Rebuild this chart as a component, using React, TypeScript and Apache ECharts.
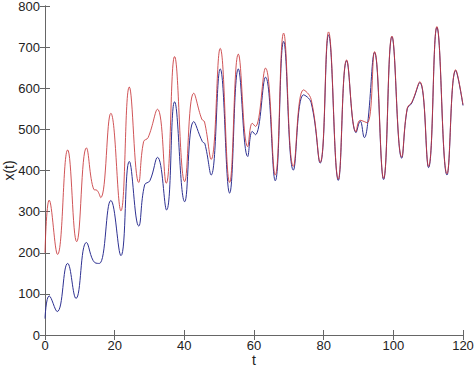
import React, { useEffect, useRef } from "react";
import * as echarts from "echarts";

const redT = [0, 1.2, 3.6, 6.5, 9.1, 11.9, 14.0, 14.9, 16.0, 18.9, 21.8, 24.2, 26.9, 28.3, 29.6, 32.3, 34.8, 37.2, 40.1, 42.7, 45.0, 45.8, 47.7, 50.3, 53.0, 55.5, 58.2, 59.5, 60.4, 63.3, 66.1, 68.5, 71.3, 74.2, 76.4, 79.0, 81.4, 84.2, 86.6, 89.3, 90.5, 92.5, 94.6, 97.2, 99.6, 102.4, 104.0, 105.3, 107.6, 110.1, 112.5, 115.4, 117.9, 120];
const redV = [200, 328, 196, 450, 227, 455, 354, 352, 334, 539, 302, 603, 371, 470, 480, 549, 369, 677, 373, 588, 525, 518, 427, 697, 371, 683, 458, 515, 507, 649, 389, 734, 410, 596, 573, 420, 737, 379, 669, 494, 522, 516, 689, 381, 727, 433, 552, 566, 616, 410, 750, 392, 645, 560];

const blueT = [0, 1.2, 3.5, 6.5, 8.9, 11.9, 14.3, 15.6, 18.9, 21.8, 24.2, 26.9, 28.6, 30.1, 32.3, 34.9, 37.2, 40.1, 42.7, 45.2, 45.9, 47.7, 50.3, 53.0, 55.5, 58.2, 59.5, 60.4, 63.3, 66.1, 68.5, 71.3, 74.2, 76.4, 79.0, 81.4, 84.2, 86.6, 89.3, 90.5, 91.7, 92.6, 94.6, 97.2, 99.6, 102.4, 104.0, 105.3, 107.6, 110.1, 112.5, 115.4, 117.9, 120];
const blueV = [40, 95, 57, 174, 89, 225, 176, 174, 327, 193, 422, 265, 365, 375, 432, 304, 567, 324, 519, 470, 465, 389, 647, 345, 647, 434, 495, 487, 627, 375, 714, 401, 584, 565, 418, 730, 376, 667, 492, 520, 480, 512, 687, 378, 725, 430, 550, 564, 614, 407, 748, 389, 643, 558];

const xTicksInterval = 20;
const yTicksInterval = 100;

export default function App() {
  const ref = useRef<HTMLDivElement>(null);
  useEffect(() => {
    if (!ref.current) return;
    const chart = echarts.init(ref.current, undefined, { renderer: "svg" });
    const axisLine = { show: true, lineStyle: { color: "#666", width: 1 } };
    const axisTick = { show: true, inside: true, length: 5, lineStyle: { color: "#666" } };
    const font = { color: "#222", fontSize: 13, fontFamily: "Liberation Sans, Arial, sans-serif" };
    chart.setOption({
      animation: false,
      backgroundColor: "#fff",
      grid: { left: 45, right: 11, top: 6, bottom: 34, containLabel: false, outerBoundsMode: "none" },
      xAxis: [
        {
          type: "value", min: 0, max: 120, interval: xTicksInterval,
          position: "bottom",
          name: "t", nameLocation: "middle", nameGap: 18, nameMoveOverlap: false,
          nameTextStyle: { ...font, fontSize: 14, lineHeight: 14 },
          axisLine, axisTick, splitLine: { show: false },
          axisLabel: { ...font, margin: 4, lineHeight: 13 },
        },
        {
          type: "value", min: 0, max: 120, interval: xTicksInterval,
          position: "top",
          axisLine, axisTick, splitLine: { show: false },
          axisLabel: { show: false },
        },
      ],
      yAxis: [
        {
          type: "value", min: 0, max: 800, interval: yTicksInterval,
          position: "left",
          name: "x(t)", nameLocation: "middle", nameGap: 29, nameRotate: 90, nameMoveOverlap: false,
          nameTextStyle: { ...font, fontSize: 14 },
          axisLine, axisTick, splitLine: { show: false },
          axisLabel: { ...font, margin: 5 },
        },
        {
          type: "value", min: 0, max: 800, interval: yTicksInterval,
          position: "right",
          axisLine, axisTick, splitLine: { show: false },
          axisLabel: { show: false },
        },
      ],
      series: [
        {
          type: "line",
          data: blueT.map((t, i) => [t, blueV[i]]),
          smooth: 0.45,
          showSymbol: false,
          lineStyle: { color: "#2e3192", width: 1 },
          xAxisIndex: 0, yAxisIndex: 0,
        },
        {
          type: "line",
          data: redT.map((t, i) => [t, redV[i]]),
          smooth: 0.45,
          showSymbol: false,
          lineStyle: { color: "#c8363a", width: 1, opacity: 0.85 },
          xAxisIndex: 0, yAxisIndex: 0,
        },
      ],
    });
    return () => chart.dispose();
  }, []);
  return <div ref={ref} style={{ width: 474, height: 369, position: "absolute", left: 0, top: 0 }} />;
}
